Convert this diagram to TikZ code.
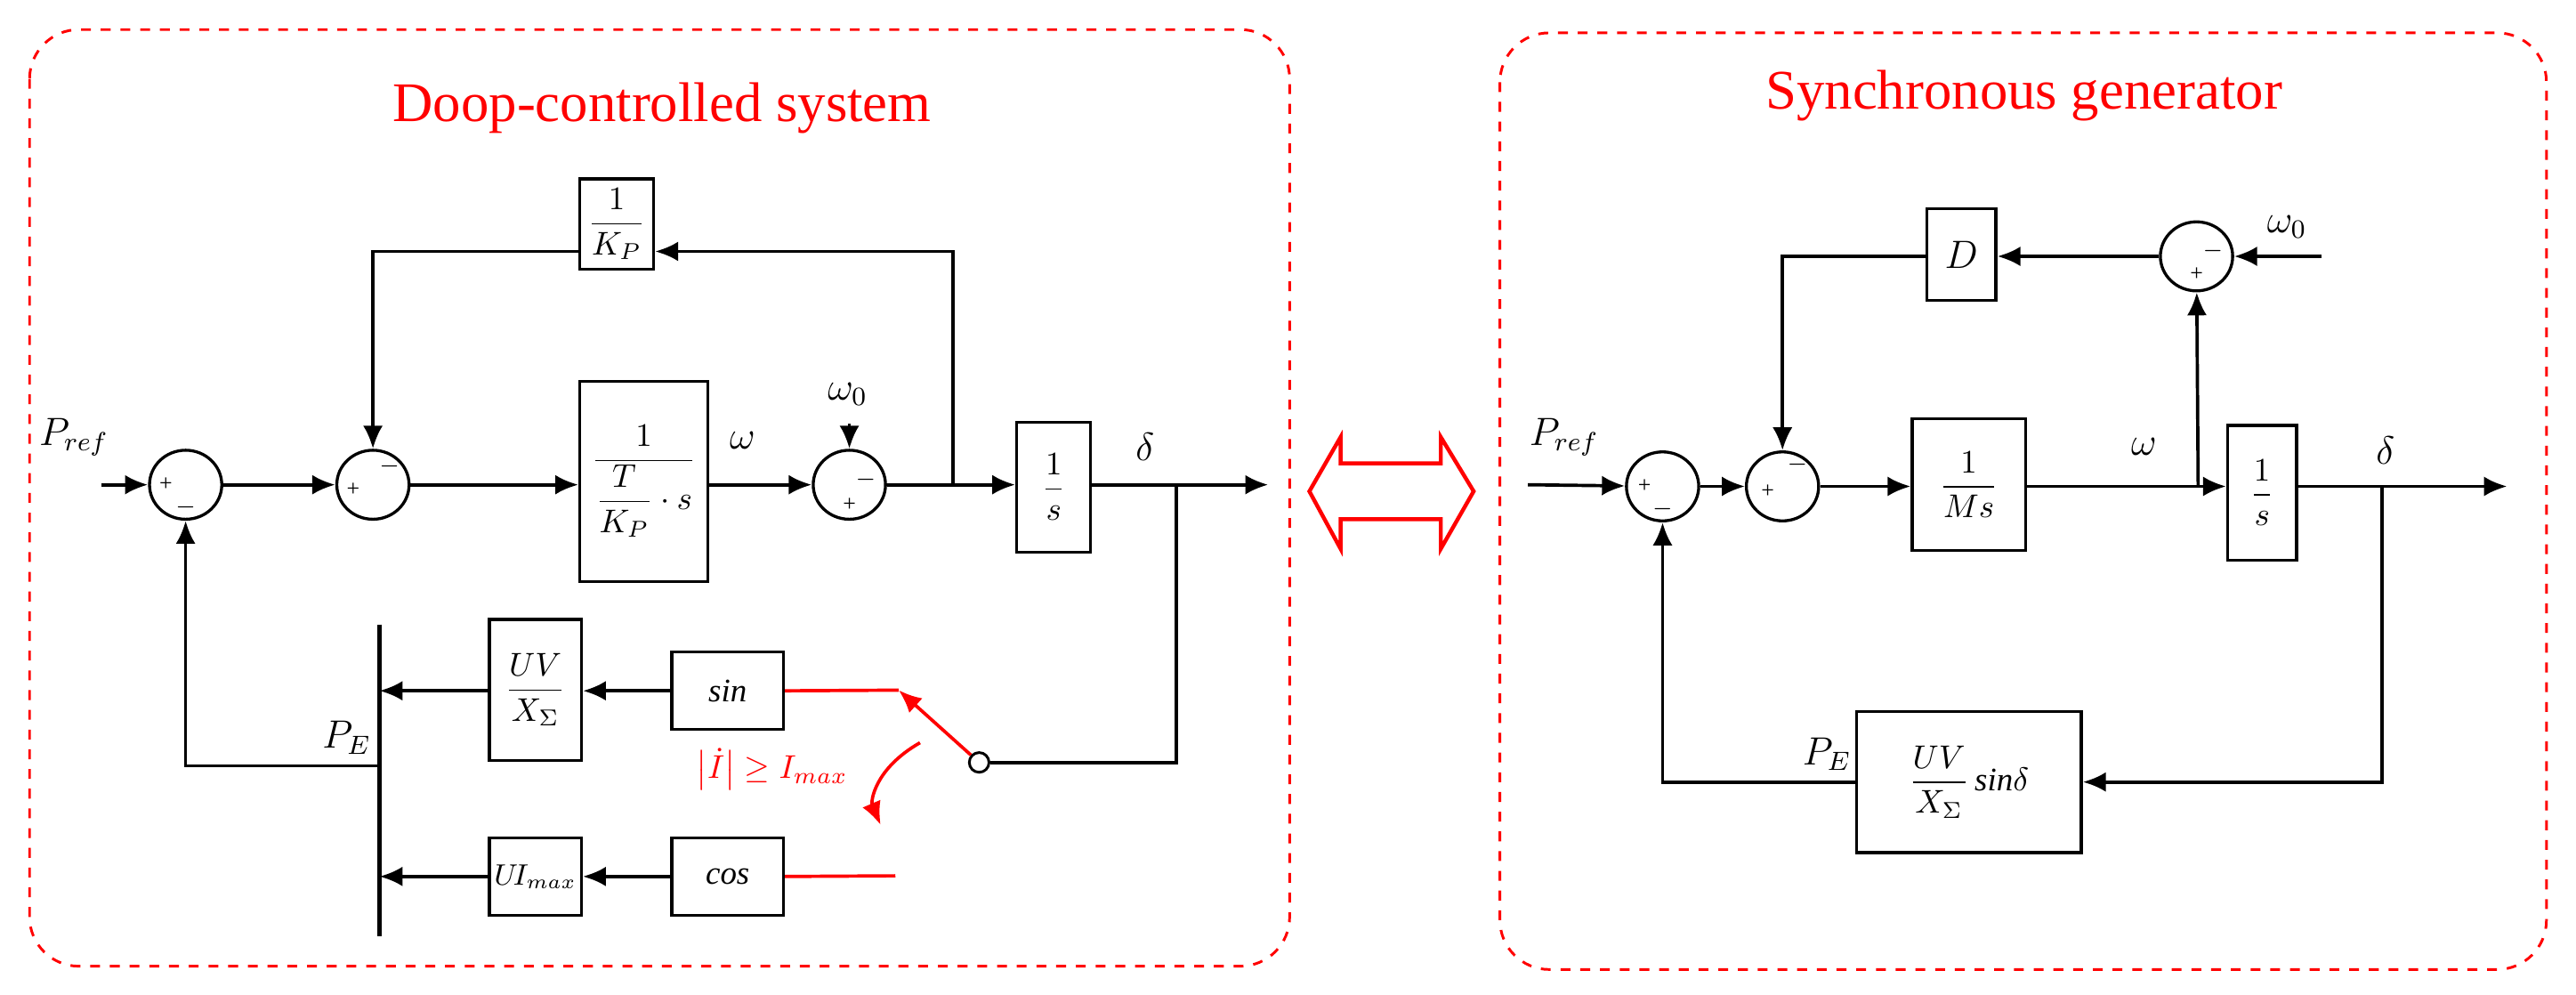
\documentclass[tikz,border=0pt]{standalone}
\usepackage{amsmath}
\usepackage{fontspec}
\setmainfont{Liberation Serif}
\usetikzlibrary{arrows.meta,shapes.geometric}
\begin{document}
\begin{tikzpicture}[x=0.5pt,y=-0.5pt,
  blk/.style={draw,line width=0.9pt,inner sep=0pt,anchor=north west},
  sumc/.style={draw,ellipse,line width=0.9pt,minimum width=22pt,minimum height=21pt,inner sep=0pt},
  ln/.style={line width=1pt},
  ar/.style={line width=1pt,-{Latex[length=7pt,width=6pt]}},
  rd/.style={red,line width=1pt},
  sg/.style={font=\scriptsize,inner sep=0pt},
  lab/.style={font=\large\itshape,inner sep=1pt},
  frame/.style={red,dashed,line width=0.8pt,rounded corners=15pt}]
\useasboundingbox (0,0) rectangle (1568,605);
% frames
\draw[frame] (18,18) rectangle (785,588);
\draw[frame] (913,20) rectangle (1550,590);
\node[red,font=\fontsize{17}{20}\selectfont] (t1) at (403,66) {Doop-controlled system};
\node[red,font=\fontsize{17}{20}\selectfont] (t2) at (1232,58) {Synchronous generator};
% double arrow
\draw[red,line width=1.2pt] (797,299) -- (816,266) -- (816,282) -- (877,282) -- (877,266) -- (897,299) -- (877,334) -- (877,316) -- (816,316) -- (816,334) -- cycle;

% ===== LEFT =====
\node[lab] (pref) at (45,266) {$P_{ref}$};
\coordinate (in1) at (62,295);
\node[sumc] (s1) at (113,295) {};
\node[sg] at (101,295) {+}; \node[sg] at (113,309) {$-$};
\node[sumc] (s2) at (227,295) {};
\node[sg] at (215,298) {+}; \node[sg] at (237,284) {$-$};
\node[blk,minimum width=22.5pt,minimum height=27.5pt] (kp) at (352,108) {};
\node at (kp.center) {$\dfrac{1}{K_P}$};
\node[blk,minimum width=39pt,minimum height=61pt] (g1) at (352,231) {};
\node at (g1.center) {$\dfrac{1}{\dfrac{T}{K_P}\cdot s}$};
\node[lab] (wl) at (452,268) {$\omega$};
\node[sumc] (s3) at (517,295) {};
\node[sg] at (527,292) {$-$}; \node[sg] at (517,307) {+};
\node[lab] (w0) at (516,240) {$\omega_0$};
\coordinate (w0s) at (517,258);
\node[blk,minimum width=22.5pt,minimum height=39.5pt] (int1) at (618,256) {};
\node at (int1.center) {$\dfrac{1}{s}$};
\node[lab] (d1) at (697,272) {$\delta$};
\coordinate (out1) at (772,295);
\coordinate (br1) at (580,295);
\coordinate (br2) at (716,295);
\node[blk,minimum width=34pt,minimum height=23.5pt] (sinb) at (408,396) {};
\node at (sinb.center) {$\mathit{sin}$};
\node[blk,minimum width=28pt,minimum height=43pt] (uvb) at (297,376) {};
\node at (uvb.center) {$\dfrac{UV}{X_\Sigma}$};
\node[blk,minimum width=34pt,minimum height=23.5pt] (cosb) at (408,509) {};
\node at (cosb.center) {$\mathit{cos}$};
\node[blk,minimum width=28pt,minimum height=23.5pt] (uib) at (297,509) {};
\node[font=\small] at (uib.center) {$U\!I_{max}$};
\coordinate (busT) at (231,380);
\coordinate (busB) at (231,570);
\node[lab] (pe1) at (211,449) {$P_E$};
\node[draw,circle,minimum size=6pt,inner sep=0pt,line width=0.8pt] (sw) at (596,464) {};
\coordinate (swA) at (547,420);
\coordinate (swB) at (545,533);

\draw[ar] (in1) -- (s1);
\draw[ar] (s1) -- (s2);
\draw[ar] (s2) -- (g1.west |- s2);
\draw[ar] (g1.east |- s3) -- (s3);
\draw[ar] (w0s) -- (s3);
\draw[ar] (s3) -- (int1.west |- s3);
\draw[ar] (int1.east |- s3) -- (out1);
\draw[ar] (br1) |- (kp.east |- 0,153);
\draw[ar] (kp.west |- 0,153) -| (s2);
\draw[ln] (br2) |- (sw);
\draw[ar] (sinb.west) -- (uvb.east |- sinb.west);
\draw[ar] (uvb.west |- sinb.west) -- (busT |- sinb.west);
\draw[ar] (cosb.west) -- (uib.east |- cosb.west);
\draw[ar] (uib.west |- cosb.west) -- (busT |- cosb.west);
\draw[line width=1.2pt] (busT) -- (busB);
\draw[ar] (busT |- 0,466) -| (s1);
\draw[rd] (sinb.east) -- (swA);
\draw[rd] (cosb.east) -- (swB);
\draw[rd,-{Latex[length=7pt,width=6pt]}] (sw) -- (swA);
\draw[rd,-{Latex[length=7pt,width=6pt]}] (560,452) .. controls (532,468) and (530,488) .. (536,502);
\node[red,inner sep=0pt] (cond) at (470,468) {$\bigl|\dot{I}\bigr|\geq I_{max}$};

% ===== RIGHT =====
\node[lab] (pref2) at (952,266) {$P_{ref}$};
\coordinate (in2) at (930,295);
\node[sumc] (r1) at (1012,296) {};
\node[sg] at (1001,296) {+}; \node[sg] at (1012,310) {$-$};
\node[sumc] (r2) at (1085,296) {};
\node[sg] at (1076,299) {+}; \node[sg] at (1094,283) {$-$};
\node[blk,minimum width=34.5pt,minimum height=40pt] (ms) at (1163,254) {};
\node at (ms.center) {$\dfrac{1}{Ms}$};
\node[lab] (wl2) at (1305,272) {$\omega$};
\coordinate (br3) at (1338,296);
\node[blk,minimum width=21pt,minimum height=41pt] (int2) at (1355,258) {};
\node at (int2.center) {$\dfrac{1}{s}$};
\node[sumc] (r3) at (1337,156) {};
\node[sg] at (1347,153) {$-$}; \node[sg] at (1337,167) {+};
\node[lab] (w02) at (1392,138) {$\omega_0$};
\coordinate (w0r) at (1413,156);
\node[blk,minimum width=21pt,minimum height=28pt] (db) at (1172,126) {};
\node[font=\large] at (db.center) {$D$};
\node[lab] (d2) at (1452,274) {$\delta$};
\coordinate (out2) at (1526,296);
\coordinate (br4) at (1450,296);
\node[blk,minimum width=68.5pt,minimum height=43pt] (sb) at (1129,432) {};
\node at (sb.center) {$\dfrac{UV}{X_\Sigma}\,\mathit{sin}\delta$};
\node[lab] (pe2) at (1112,459) {$P_E$};

\draw[ar] (in2) -- (r1);
\draw[ar] (r1) -- (r2);
\draw[ar] (r2) -- (ms.west |- r2);
\draw[ar] (ms.east |- r2) -- (int2.west |- r2);
\draw[ar] (int2.east |- r2) -- (out2);
\draw[ar] (br3) -- (r3);
\draw[ar] (w0r) -- (r3);
\draw[ar] (r3) -- (db.east |- r3);
\draw[ar] (db.west |- r3) -| (r2);
\draw[ar] (br4) |- (sb.east);
\draw[ar] (sb.west) -| (r1);
\end{tikzpicture}
\end{document}
